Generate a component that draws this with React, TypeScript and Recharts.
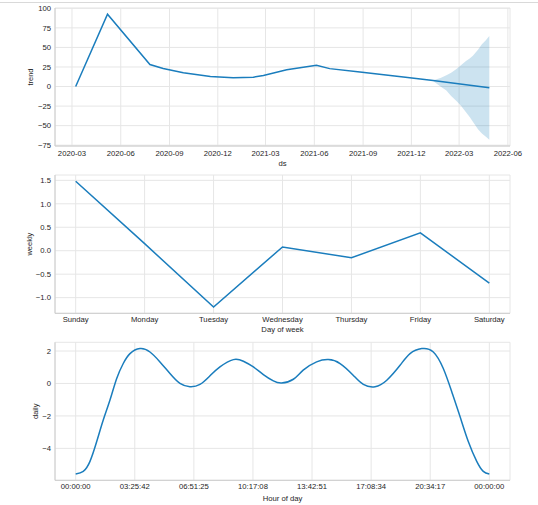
import React from 'react';
import { ComposedChart, Line, Area, XAxis, YAxis, CartesianGrid } from 'recharts';

// ---------- trend panel ----------
const trendDates = [
  '2020-03-08', '2020-05-07', '2020-07-26', '2020-08-20', '2020-09-27', '2020-11-17',
  '2020-12-30', '2021-02-06', '2021-02-25', '2021-04-10', '2021-06-05', '2021-06-30',
  '2021-08-26', '2021-11-24', '2022-01-11', '2022-04-27',
];
const trendValues = [0, 92.4, 28.2, 23, 17.7, 12.9, 11.2, 12, 14.2, 21.6, 27.2, 22.9, 18.5, 11.5, 7.7, -1.5];

const bandDates = [
  '2022-01-11', '2022-01-25', '2022-02-05', '2022-02-14', '2022-02-24', '2022-03-05',
  '2022-03-14', '2022-03-21', '2022-03-27', '2022-04-06', '2022-04-13', '2022-04-20', '2022-04-27',
];
const bandLower = [7.2, 0, -5, -12, -18.5, -25, -33, -39, -45, -55, -60, -64, -68];
const bandUpper = [8.2, 11, 14.5, 17.5, 22.5, 27.5, 32.5, 36, 39.5, 47.5, 54, 59, 64.5];

const trendTickLabels = [
  '2020-03', '2020-06', '2020-09', '2020-12', '2021-03', '2021-06', '2021-09', '2021-12', '2022-03', '2022-06',
];
const trendYTicks = [-75, -50, -25, 0, 25, 50, 75, 100];

// ---------- weekly panel ----------
const weekDays = ['Sunday', 'Monday', 'Tuesday', 'Wednesday', 'Thursday', 'Friday', 'Saturday'];
const weeklyValues = [1.48, 0.15, -1.2, 0.08, -0.15, 0.38, -0.69];
const weeklyYTicks = [-1, -0.5, 0, 0.5, 1, 1.5];

// ---------- daily panel ----------
const dailyHours = [
  0, 0.44, 0.83, 1.22, 1.6, 1.99, 2.38, 2.76, 3.15, 3.73, 4.31, 4.89, 5.47, 6.05, 6.63, 7.21,
  7.79, 8.37, 9.15, 9.73, 10.31, 10.89, 11.47, 11.95, 12.63, 13.2, 13.98, 14.66, 15.34, 16.1,
  16.69, 17.37, 18.05, 18.82, 19.4, 20.08, 20.75, 21.33, 21.82, 22.3, 22.78, 23.27, 23.65, 24,
];
const dailyValues = [
  -5.58, -5.42, -4.8, -3.58, -2.25, -1.02, 0.31, 1.23, 1.84, 2.15, 1.94, 1.33, 0.61, 0.0, -0.2, -0.06,
  0.47, 1.02, 1.47, 1.37, 1.02, 0.55, 0.16, 0.03, 0.26, 0.82, 1.33, 1.47, 1.23, 0.51,
  -0.06, -0.2, 0.2, 1.12, 1.84, 2.15, 1.94, 0.92, -0.51, -2.04, -3.58, -4.8, -5.42, -5.58,
];
const dailyTickHours = [0, 3.428571, 6.857143, 10.285714, 13.714286, 17.142857, 20.571429, 24];
const dailyTickLabels = ['00:00:00', '03:25:42', '06:51:25', '10:17:08', '13:42:51', '17:08:34', '20:34:17', '00:00:00'];
const dailyYTicks = [-4, -2, 0, 2];

// ---------- helpers ----------
const toTime = (s: string) => Date.parse(s.length === 7 ? s + '-01' : s);
const pad = (lo: number, hi: number): [number, number] => {
  const r = hi - lo;
  return [lo - 0.05 * r, hi + 0.05 * r];
};
const signed = (v: number, digits: number) => (v < 0 ? '\u2212' : '') + Math.abs(v).toFixed(digits);

const FONT = '"Liberation Sans", Arial, Helvetica, sans-serif';
const TEXT = '#262626';
const GRID = '#e6e6e6';
const EDGE = '#cccccc';
const BLUE = '#1a7dbd';
const BAND = '#0072B2';
const tickStyle = { fontSize: 7.7, fill: TEXT, fontFamily: FONT };

const trendRowsMap = new Map<number, any>();
trendDates.forEach((d, i) => {
  const t = toTime(d);
  trendRowsMap.set(t, { ...(trendRowsMap.get(t) || { t }), trend: trendValues[i] });
});
bandDates.forEach((d, i) => {
  const t = toTime(d);
  trendRowsMap.set(t, { ...(trendRowsMap.get(t) || { t }), band: [bandLower[i], bandUpper[i]] });
});
const trendTable = Array.from(trendRowsMap.values()).sort((a, b) => a.t - b.t);
const trendTicks = trendTickLabels.map(toTime);
const allT = trendTable.map((r) => r.t);
const trendXDomain = pad(Math.min(...allT), Math.max(...allT));
const trendYDomain = pad(
  Math.min(...trendValues, ...bandLower),
  Math.max(...trendValues, ...bandUpper),
);

const weeklyTable = weeklyValues.map((v, i) => ({ i, weekly: v }));
const weeklyXDomain = pad(0, weekDays.length - 1);
const weeklyYDomain = pad(Math.min(...weeklyValues), Math.max(...weeklyValues));

const dailyTable = dailyHours.map((h, i) => ({ h, daily: dailyValues[i] }));
const dailyXDomain = pad(Math.min(...dailyHours), Math.max(...dailyHours));
const dailyYDomain = pad(Math.min(...dailyValues), Math.max(...dailyValues));

const yTitle = (text: string, x: number) => (props: any) => {
  const vb = props.viewBox || {};
  const cy = (vb.y || 0) + (vb.height || 0) / 2;
  return (
    <text
      x={x}
      y={cy}
      transform={`rotate(-90 ${x} ${cy})`}
      textAnchor="middle"
      dominantBaseline="central"
      style={{ fontSize: 7.5, fill: TEXT, fontFamily: FONT }}
    >
      {text}
    </text>
  );
};

const xTitleStyle = { fontSize: 7.7, fill: TEXT, fontFamily: FONT };

function Frame(xDomain: [number, number], yDomain: [number, number]) {
  return [
    <XAxis
      key="xt"
      xAxisId="top"
      orientation="top"
      type="number"
      domain={xDomain}
      height={0}
      tick={false}
      tickLine={false}
      axisLine={{ stroke: EDGE, strokeWidth: 1 }}
    />,
    <YAxis
      key="yr"
      yAxisId="right"
      orientation="right"
      type="number"
      domain={yDomain}
      width={0}
      tick={false}
      tickLine={false}
      axisLine={{ stroke: EDGE, strokeWidth: 1 }}
    />,
  ];
}

export default function App() {
  return (
    <div style={{ position: 'absolute', left: 0, top: 0, width: 538, height: 505, background: '#fff', overflow: 'hidden' }}>
      <div style={{ position: 'absolute', left: 0, top: 2, width: 538, height: 1, background: '#d9d9d9' }} />

      <div style={{ position: 'absolute', left: 0, top: 0 }}>
        <ComposedChart width={538} height={170} data={trendTable} margin={{ top: 8, right: 28, left: 0, bottom: 0 }}>
          <CartesianGrid stroke={GRID} strokeWidth={1} />
          <XAxis
            dataKey="t"
            type="number"
            domain={trendXDomain}
            ticks={trendTicks}
            interval={0}
            tickFormatter={(v: number) => trendTickLabels[trendTicks.indexOf(v)] ?? ''}
            tick={tickStyle}
            tickLine={false}
            tickSize={0}
            tickMargin={4.5}
            height={24}
            axisLine={{ stroke: EDGE, strokeWidth: 1 }}
            label={{ value: 'ds', position: 'insideBottom', offset: 4, style: xTitleStyle }}
          />
          <YAxis
            type="number"
            domain={trendYDomain}
            ticks={trendYTicks}
            interval={0}
            tickFormatter={(v: number) => signed(v, 0)}
            tick={tickStyle}
            tickLine={false}
            tickSize={0}
            tickMargin={4}
            width={55}
            axisLine={{ stroke: EDGE, strokeWidth: 1 }}
            label={{ content: yTitle('trend', 30.7) }}
          />
          {Frame(trendXDomain, trendYDomain)}
          <Area
            dataKey="band"
            type="linear"
            stroke="none"
            fill={BAND}
            fillOpacity={0.2}
            connectNulls
            isAnimationActive={false}
          />
          <Line
            dataKey="trend"
            type="linear"
            stroke={BLUE}
            strokeWidth={1.5}
            dot={false}
            connectNulls
            isAnimationActive={false}
          />
        </ComposedChart>
      </div>

      <div style={{ position: 'absolute', left: 0, top: 170 }}>
        <ComposedChart width={538} height={166} data={weeklyTable} margin={{ top: 5, right: 28, left: 0, bottom: 0 }}>
          <CartesianGrid stroke={GRID} strokeWidth={1} />
          <XAxis
            dataKey="i"
            type="number"
            domain={weeklyXDomain}
            ticks={weekDays.map((_, i) => i)}
            interval={0}
            tickFormatter={(v: number) => weekDays[v] ?? ''}
            tick={tickStyle}
            tickLine={false}
            tickSize={0}
            tickMargin={3.5}
            height={22.7}
            axisLine={{ stroke: EDGE, strokeWidth: 1 }}
            label={{ value: 'Day of week', position: 'insideBottom', offset: 4, style: xTitleStyle }}
          />
          <YAxis
            type="number"
            domain={weeklyYDomain}
            ticks={weeklyYTicks}
            interval={0}
            tickFormatter={(v: number) => signed(v, 1)}
            tick={tickStyle}
            tickLine={false}
            tickSize={0}
            tickMargin={4}
            width={55}
            axisLine={{ stroke: EDGE, strokeWidth: 1 }}
            label={{ content: yTitle('weekly', 29.3) }}
          />
          {Frame(weeklyXDomain, weeklyYDomain)}
          <Line
            dataKey="weekly"
            type="linear"
            stroke={BLUE}
            strokeWidth={1.5}
            dot={false}
            isAnimationActive={false}
          />
        </ComposedChart>
      </div>

      <div style={{ position: 'absolute', left: 0, top: 336 }}>
        <ComposedChart width={538} height={169} data={dailyTable} margin={{ top: 6.3, right: 28, left: 0, bottom: 0 }}>
          <CartesianGrid stroke={GRID} strokeWidth={1} />
          <XAxis
            dataKey="h"
            type="number"
            domain={dailyXDomain}
            ticks={dailyTickHours}
            interval={0}
            tickFormatter={(v: number) => dailyTickLabels[dailyTickHours.indexOf(v)] ?? ''}
            tick={tickStyle}
            tickLine={false}
            tickSize={0}
            tickMargin={3.5}
            height={24.7}
            axisLine={{ stroke: EDGE, strokeWidth: 1 }}
            label={{ value: 'Hour of day', position: 'insideBottom', offset: 4, style: xTitleStyle }}
          />
          <YAxis
            type="number"
            domain={dailyYDomain}
            ticks={dailyYTicks}
            interval={0}
            tickFormatter={(v: number) => signed(v, 0)}
            tick={tickStyle}
            tickLine={false}
            tickSize={0}
            tickMargin={4}
            width={55}
            axisLine={{ stroke: EDGE, strokeWidth: 1 }}
            label={{ content: yTitle('daily', 36) }}
          />
          {Frame(dailyXDomain, dailyYDomain)}
          <Line
            dataKey="daily"
            type="natural"
            stroke={BLUE}
            strokeWidth={1.5}
            dot={false}
            isAnimationActive={false}
          />
        </ComposedChart>
      </div>
    </div>
  );
}
